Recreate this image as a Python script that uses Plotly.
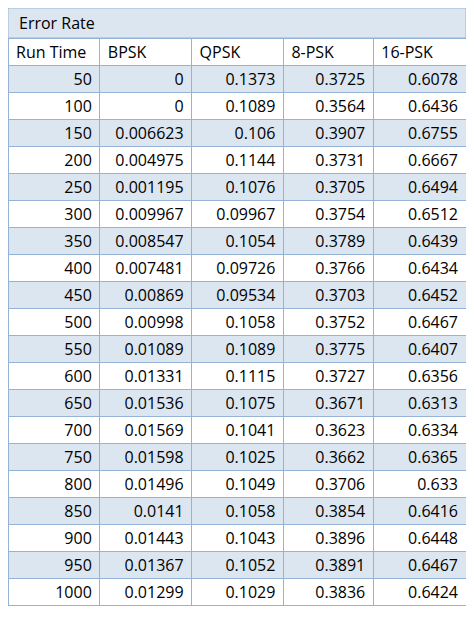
import plotly.graph_objects as go

# Columns of the error rate table
run_time = [50, 100, 150, 200, 250, 300, 350, 400, 450, 500,
            550, 600, 650, 700, 750, 800, 850, 900, 950, 1000]
bpsk = ["0", "0", "0.006623", "0.004975", "0.001195", "0.009967", "0.008547", "0.007481", "0.00869", "0.00998",
        "0.01089", "0.01331", "0.01536", "0.01569", "0.01598", "0.01496", "0.0141", "0.01443", "0.01367", "0.01299"]
qpsk = ["0.1373", "0.1089", "0.106", "0.1144", "0.1076", "0.09967", "0.1054", "0.09726", "0.09534", "0.1058",
        "0.1089", "0.1115", "0.1075", "0.1041", "0.1025", "0.1049", "0.1058", "0.1043", "0.1052", "0.1029"]
psk8 = ["0.3725", "0.3564", "0.3907", "0.3731", "0.3705", "0.3754", "0.3789", "0.3766", "0.3703", "0.3752",
        "0.3775", "0.3727", "0.3671", "0.3623", "0.3662", "0.3706", "0.3854", "0.3896", "0.3891", "0.3836"]
psk16 = ["0.6078", "0.6436", "0.6755", "0.6667", "0.6494", "0.6512", "0.6439", "0.6434", "0.6452", "0.6467",
         "0.6407", "0.6356", "0.6313", "0.6334", "0.6365", "0.633", "0.6416", "0.6448", "0.6467", "0.6424"]
headers = ["Run Time", "BPSK", "QPSK", "8-PSK", "16-PSK"]

# page body keeps an 8px margin, so stay inside the window
W, H = 458, 626
title_h = 30
row_h = 27
blue = "#dce6f1"
line = "#95b3d7"

# alternating row colours, first data row shaded
fills = [blue if i % 2 == 0 else "white" for i in range(len(run_time))]
font = dict(family="Open Sans", size=16, color="black")

fig = go.Figure(go.Table(
    columnwidth=[95, 95, 95, 93, 96],
    header=dict(values=headers, fill_color="white", line_color=line, align="left",
                font=font, height=row_h),
    cells=dict(values=[[str(v) for v in run_time], bpsk, qpsk, psk8, psk16],
               fill_color=[fills] * 5, line_color=line, align="right",
               font=font, height=row_h),
    domain=dict(x=[0, 1], y=[0, 1 - title_h / H]),
))

# merged title row
fig.add_shape(type="rect", xref="paper", yref="paper", x0=0, x1=1, y0=1 - title_h / H, y1=1,
              fillcolor=blue, line=dict(color=line, width=1), layer="below")
fig.add_annotation(text="Error Rate", xref="paper", yref="paper", x=0.02, y=1 - title_h / H / 2,
                   xanchor="left", yanchor="middle", showarrow=False, font=font)

fig.update_layout(width=W, height=H, margin=dict(l=0, r=0, t=0, b=0),
                  paper_bgcolor="white")
fig.write_html("out.html")
